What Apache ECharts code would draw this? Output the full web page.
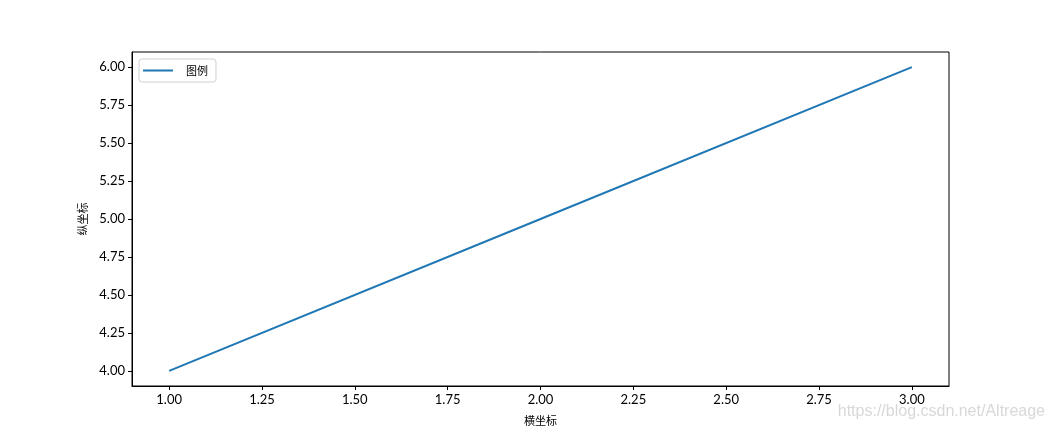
<!DOCTYPE html>
<html lang="zh">
<head>
    <meta charset="UTF-8">
    <title>图例</title>
    <style>
        html,body{
            width: 100%;
            height: 100%;
            margin: 0;
            padding: 0;
            background: #fff;
        }
    </style>
</head>
<body>
<div id="main" style="width: 1054px;height:434px;"></div>

<script src="https://cdn.jsdelivr.net/npm/echarts@6/dist/echarts.min.js"></script>
<script>
    // 数据
    var xValues = [1, 2, 3];
    var yValues = [4, 5, 6];
    var xTicks = [1.00, 1.25, 1.50, 1.75, 2.00, 2.25, 2.50, 2.75, 3.00];
    var yTicks = [4.00, 4.25, 4.50, 4.75, 5.00, 5.25, 5.50, 5.75, 6.00];
    var seriesName = '图例';

    var tickFont = 'Lato, "Noto Sans", sans-serif';
    var cjkFont = '"Noto Sans CJK SC", sans-serif';

    var myChart = echarts.init(document.getElementById('main'));

    var points = xValues.map(function (x, i) {
        return [x, yValues[i]];
    });

    myChart.setOption({
        animation: false,
        grid: {
            left: 132,
            right: 105,
            top: 52,
            bottom: 48,
            show: true,
            borderColor: '#000',
            borderWidth: 1,
            backgroundColor: 'transparent'
        },
        legend: {
            left: 139,
            top: 59,
            orient: 'vertical',
            padding: [6, 8, 6, 4],
            itemWidth: 30,
            itemHeight: 2,
            itemGap: 4,
            borderColor: '#d0d0d0',
            borderWidth: 1,
            borderRadius: 3,
            backgroundColor: 'rgba(255,255,255,0.8)',
            textStyle: {
                fontFamily: cjkFont,
                fontSize: 11,
                color: '#000',
                padding: [0, 0, 0, 8]
            },
            data: [{name: seriesName, icon: 'rect'}]
        },
        xAxis: {
            type: 'value',
            min: 0.9,
            max: 3.1,
            name: '横坐标',
            nameLocation: 'middle',
            nameGap: 29,
            nameTextStyle: {fontFamily: cjkFont, fontSize: 11, color: '#000'},
            splitLine: {show: false},
            axisLine: {show: true, onZero: false, lineStyle: {color: '#000', width: 1}},
            axisTick: {show: true, inside: false, length: 4, lineStyle: {color: '#000'}, customValues: xTicks},
            axisLabel: {
                color: '#000',
                fontFamily: tickFont,
                fontSize: 13,
                margin: 7,
                customValues: xTicks,
                formatter: function (v) { return v.toFixed(2); }
            }
        },
        yAxis: {
            type: 'value',
            min: 3.9,
            max: 6.1,
            name: '纵坐标',
            nameLocation: 'middle',
            nameGap: 44,
            nameRotate: 90,
            nameTextStyle: {fontFamily: cjkFont, fontSize: 11, color: '#000'},
            splitLine: {show: false},
            axisLine: {show: true, onZero: false, lineStyle: {color: '#000', width: 1}},
            axisTick: {show: true, inside: false, length: 4, lineStyle: {color: '#000'}, customValues: yTicks},
            axisLabel: {
                color: '#000',
                fontFamily: tickFont,
                fontSize: 13,
                margin: 7,
                customValues: yTicks,
                formatter: function (v) { return v.toFixed(2); }
            }
        },
        graphic: [{
            type: 'text',
            right: 9,
            top: 404,
            style: {
                text: 'https://blog.csdn.net/Altreage',
                fill: '#d8d8d8',
                font: '16px "Liberation Sans", Arial, sans-serif'
            }
        }],
        series: [{
            name: seriesName,
            type: 'line',
            data: points,
            showSymbol: false,
            symbol: 'none',
            lineStyle: {color: '#1f77b4', width: 2},
            itemStyle: {color: '#1f77b4'}
        }]
    });
</script>
</body>
</html>
